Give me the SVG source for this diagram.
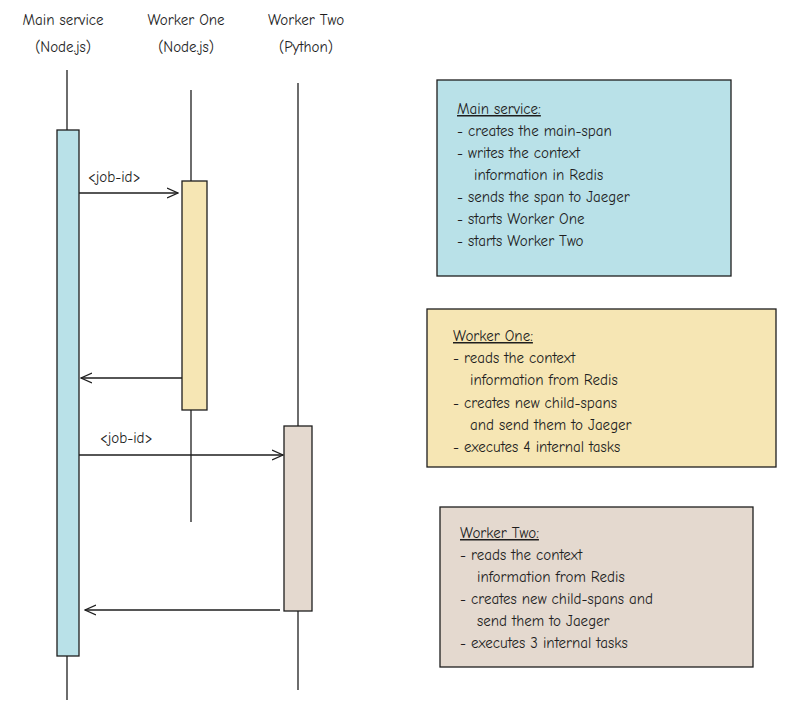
<svg xmlns="http://www.w3.org/2000/svg" width="786" height="710" viewBox="0 0 786 710">
<style>
text{font-family:"Comic Neue","Liberation Sans",sans-serif;font-size:15px;fill:#1e1e1e}
.h{text-anchor:middle;font-size:15px}
.l{stroke:#1e1e1e;stroke-width:1.3;fill:none}
.b{stroke:#1e1e1e;stroke-width:1.3}
</style>
<defs><marker id="a" viewBox="0 0 12 12" refX="11" refY="6" markerWidth="12" markerHeight="12" markerUnits="userSpaceOnUse" orient="auto"><path d="M0,1 L11,6 L0,11" class="l"/></marker></defs>
<rect width="786" height="710" fill="#fff"/>
<g id="main-service"><text class="h" x="63" y="25">Main service</text><text class="h" x="63" y="52">(Node.js)</text><line class="l" x1="67" y1="70" x2="67" y2="700"/><rect class="b" x="57" y="130" width="22" height="526" fill="#b9e1e8"/></g>
<g id="worker-one"><text class="h" x="186" y="25">Worker One</text><text class="h" x="186" y="52">(Node.js)</text><line class="l" x1="191" y1="90" x2="191" y2="522"/><rect class="b" x="182" y="181" width="25" height="229" fill="#f6e6b4"/></g>
<g id="worker-two"><text class="h" x="306" y="25">Worker Two</text><text class="h" x="306" y="52">(Python)</text><line class="l" x1="298" y1="83" x2="298" y2="690"/><rect class="b" x="284" y="426" width="28" height="185" fill="#e4d9cf"/></g>
<g id="connectors">
<line class="l" x1="79" y1="193" x2="178" y2="193" marker-end="url(#a)"/><text x="88" y="182">&lt;job-id&gt;</text>
<line class="l" x1="182" y1="378" x2="81" y2="378" marker-end="url(#a)"/>
<line class="l" x1="79" y1="455" x2="283" y2="455" marker-end="url(#a)"/><text x="100" y="443">&lt;job-id&gt;</text>
<line class="l" x1="280" y1="610" x2="85" y2="610" marker-end="url(#a)"/>
</g>
<g id="note-main"><rect class="b" x="437" y="80" width="294" height="196" fill="#b9e1e8"/>
<text x="457" y="114" text-decoration="underline">Main service:</text>
<text x="457" y="136">- creates the main-span</text><text x="457" y="158">- writes the context</text><text x="474" y="180">information in Redis</text><text x="457" y="202">- sends the span to Jaeger</text><text x="457" y="224">- starts Worker One</text><text x="457" y="246">- starts Worker Two</text></g>
<g id="note-one"><rect class="b" x="427" y="309" width="349" height="158" fill="#f6e6b4"/>
<text x="453" y="341" text-decoration="underline">Worker One:</text>
<text x="453" y="363">- reads the context</text><text x="470" y="385">information from Redis</text><text x="453" y="408">- creates new child-spans</text><text x="470" y="430">and send them to Jaeger</text><text x="453" y="452">- executes 4 internal tasks</text></g>
<g id="note-two"><rect class="b" x="440" y="507" width="313" height="160" fill="#e4d9cf"/>
<text x="460" y="538" text-decoration="underline">Worker Two:</text>
<text x="460" y="560">- reads the context</text><text x="477" y="582">information from Redis</text><text x="460" y="604">- creates new child-spans and</text><text x="477" y="626">send them to Jaeger</text><text x="460" y="648">- executes 3 internal tasks</text></g>
</svg>
